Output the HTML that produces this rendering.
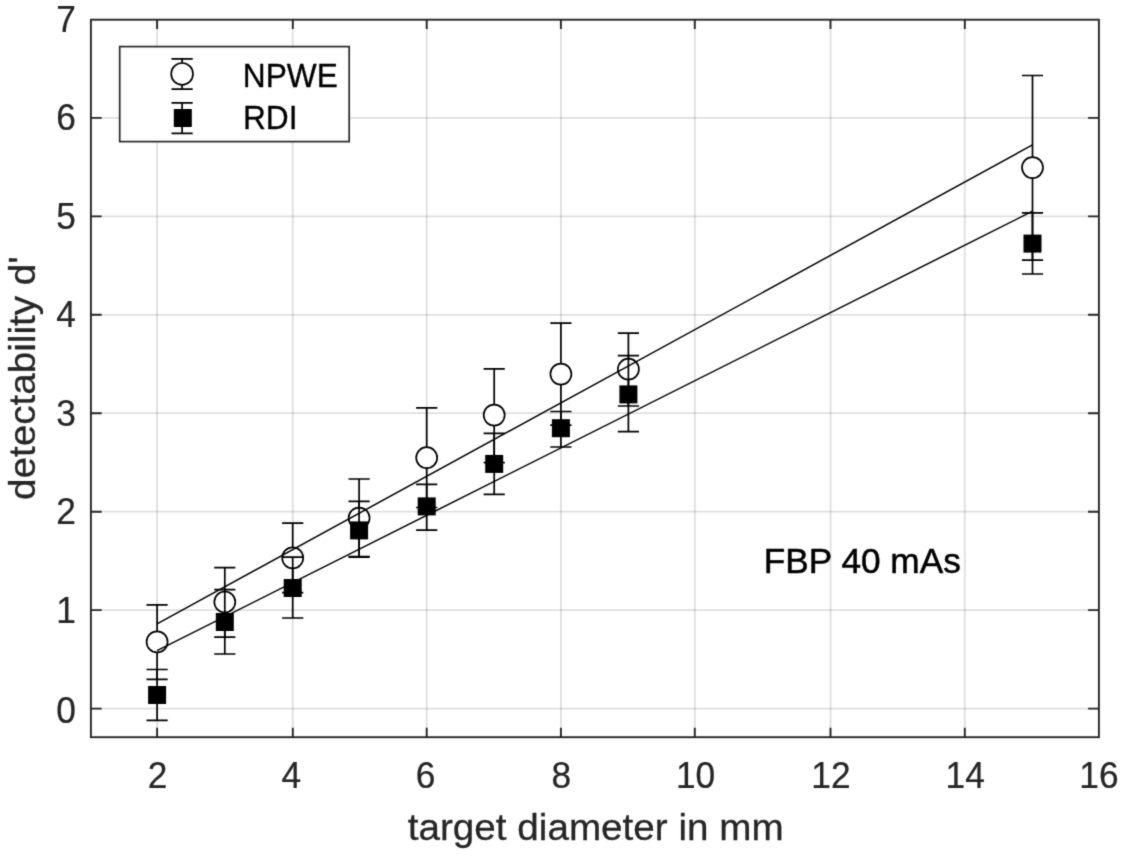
<!DOCTYPE html>
<html lang="en"><head><meta charset="utf-8"><title>Detectability vs target diameter</title>
<style>html,body{margin:0;padding:0;background:#fff}svg{display:block}</style></head>
<body>
<svg width="1125" height="857" viewBox="0 0 1125 857" style="font-family:&quot;Liberation Sans&quot;,sans-serif">
<defs><filter id="soft" x="0" y="0" width="1125" height="857" filterUnits="userSpaceOnUse" color-interpolation-filters="sRGB"><feConvolveMatrix order="3" kernelMatrix="0.0192 0.1001 0.0192 0.1001 0.5228 0.1001 0.0192 0.1001 0.0192" edgeMode="duplicate" preserveAlpha="true"/></filter></defs>
<g filter="url(#soft)">
<rect width="1125" height="857" fill="#fff"/>
<path d="M157.1 19.7V737.25M292.8 19.7V737.25M426.7 19.7V737.25M560.9 19.7V737.25M694.8 19.7V737.25M830.5 19.7V737.25M964.8 19.7V737.25" stroke="#262626" stroke-opacity="0.15" stroke-width="1.8" fill="none"/>
<path d="M90.9 708.6H1098.9M90.9 610.1H1098.9M90.9 511.7H1098.9M90.9 413.2H1098.9M90.9 314.8H1098.9M90.9 216.4H1098.9M90.9 117.9H1098.9" stroke="#262626" stroke-opacity="0.15" stroke-width="1.8" fill="none"/>
<path d="M157.1 604.8V679.4M146.5 604.8H167.7M146.5 679.4H167.7M224.8 567.7V637.2M214.2 567.7H235.4M214.2 637.2H235.4M292.7 523.2V592.6M282.1 523.2H303.3M282.1 592.6H303.3M359.1 479.0V556.5M348.5 479.0H369.7M348.5 556.5H369.7M426.7 407.9V507.5M416.1 407.9H437.3M416.1 507.5H437.3M494.2 368.8V462.7M483.6 368.8H504.8M483.6 462.7H504.8M560.9 323.1V425.1M550.3 323.1H571.5M550.3 425.1H571.5M628.4 333.2V406.0M617.8 333.2H639.0M617.8 406.0H639.0M1032.5 75.5V260.2M1021.9 75.5H1043.1M1021.9 260.2H1043.1" stroke="#000" stroke-width="1.7" fill="none"/>
<circle cx="157.1" cy="641.9" r="10.5" fill="#fff" stroke="#000" stroke-width="1.7"/>
<circle cx="224.8" cy="602.0" r="10.5" fill="#fff" stroke="#000" stroke-width="1.7"/>
<circle cx="292.7" cy="557.9" r="10.5" fill="#fff" stroke="#000" stroke-width="1.7"/>
<circle cx="359.1" cy="518.1" r="10.5" fill="#fff" stroke="#000" stroke-width="1.7"/>
<circle cx="426.7" cy="457.7" r="10.5" fill="#fff" stroke="#000" stroke-width="1.7"/>
<circle cx="494.2" cy="415.1" r="10.5" fill="#fff" stroke="#000" stroke-width="1.7"/>
<circle cx="560.9" cy="374.1" r="10.5" fill="#fff" stroke="#000" stroke-width="1.7"/>
<circle cx="628.4" cy="369.2" r="10.5" fill="#fff" stroke="#000" stroke-width="1.7"/>
<circle cx="1032.5" cy="167.6" r="10.5" fill="#fff" stroke="#000" stroke-width="1.7"/>
<path d="M157.1 669.5V720.3M146.5 669.5H167.7M146.5 720.3H167.7M224.8 589.6V654.0M214.2 589.6H235.4M214.2 654.0H235.4M292.7 557.2V618.0M282.1 557.2H303.3M282.1 618.0H303.3M359.1 501.4V557.2M348.5 501.4H369.7M348.5 557.2H369.7M426.7 484.4V530.2M416.1 484.4H437.3M416.1 530.2H437.3M494.2 433.3V494.3M483.6 433.3H504.8M483.6 494.3H504.8M560.9 411.5V447.0M550.3 411.5H571.5M550.3 447.0H571.5M628.4 355.6V431.6M617.8 355.6H639.0M617.8 431.6H639.0M1032.5 212.8V274.0M1021.9 212.8H1043.1M1021.9 274.0H1043.1" stroke="#000" stroke-width="1.7" fill="none"/>
<rect x="148.1" y="686.0" width="18.0" height="18.0" fill="#000"/>
<rect x="215.8" y="613.0" width="18.0" height="18.0" fill="#000"/>
<rect x="283.7" y="579.0" width="18.0" height="18.0" fill="#000"/>
<rect x="350.1" y="521.4" width="18.0" height="18.0" fill="#000"/>
<rect x="417.7" y="497.4" width="18.0" height="18.0" fill="#000"/>
<rect x="485.2" y="454.9" width="18.0" height="18.0" fill="#000"/>
<rect x="551.9" y="419.2" width="18.0" height="18.0" fill="#000"/>
<rect x="619.4" y="385.4" width="18.0" height="18.0" fill="#000"/>
<rect x="1023.5" y="234.6" width="18.0" height="18.0" fill="#000"/>
<path d="M157.06 623.8L1032.5 144.9M157.06 650.7L1032.5 211.2" stroke="#000" stroke-width="1.5" fill="none"/>
<path d="M157.1 737.25v-9.4M157.1 19.7v9.4M292.8 737.25v-9.4M292.8 19.7v9.4M426.7 737.25v-9.4M426.7 19.7v9.4M560.9 737.25v-9.4M560.9 19.7v9.4M694.8 737.25v-9.4M694.8 19.7v9.4M830.5 737.25v-9.4M830.5 19.7v9.4M964.8 737.25v-9.4M964.8 19.7v9.4M90.9 708.6h10.8M1098.9 708.6h-10.8M90.9 610.1h10.8M1098.9 610.1h-10.8M90.9 511.7h10.8M1098.9 511.7h-10.8M90.9 413.2h10.8M1098.9 413.2h-10.8M90.9 314.8h10.8M1098.9 314.8h-10.8M90.9 216.4h10.8M1098.9 216.4h-10.8M90.9 117.9h10.8M1098.9 117.9h-10.8" stroke="#262626" stroke-width="1.9" fill="none"/>
<rect x="90.9" y="19.7" width="1008.0" height="717.5" fill="none" stroke="#262626" stroke-width="1.9"/>
<text transform="translate(157.5 787.6) scale(0.97 1)" font-size="36.4" text-anchor="middle" fill="#262626" stroke="#262626" stroke-width="0.25">2</text>
<text transform="translate(291.2 787.6) scale(0.97 1)" font-size="36.4" text-anchor="middle" fill="#262626" stroke="#262626" stroke-width="0.25">4</text>
<text transform="translate(425.5 787.6) scale(0.97 1)" font-size="36.4" text-anchor="middle" fill="#262626" stroke="#262626" stroke-width="0.25">6</text>
<text transform="translate(561.3 787.6) scale(0.97 1)" font-size="36.4" text-anchor="middle" fill="#262626" stroke="#262626" stroke-width="0.25">8</text>
<text transform="translate(695.6 787.6) scale(0.97 1)" font-size="36.4" text-anchor="middle" fill="#262626" stroke="#262626" stroke-width="0.25">10</text>
<text transform="translate(830.9 787.6) scale(0.97 1)" font-size="36.4" text-anchor="middle" fill="#262626" stroke="#262626" stroke-width="0.25">12</text>
<text transform="translate(965.2 787.6) scale(0.97 1)" font-size="36.4" text-anchor="middle" fill="#262626" stroke="#262626" stroke-width="0.25">14</text>
<text transform="translate(1098.9 787.6) scale(0.97 1)" font-size="36.4" text-anchor="middle" fill="#262626" stroke="#262626" stroke-width="0.25">16</text>
<text transform="translate(75.8 722.9) scale(0.97 1)" font-size="36.4" text-anchor="end" fill="#262626" stroke="#262626" stroke-width="0.25">0</text>
<text transform="translate(75.8 622.9) scale(0.97 1)" font-size="36.4" text-anchor="end" fill="#262626" stroke="#262626" stroke-width="0.25">1</text>
<text transform="translate(75.8 524.3) scale(0.97 1)" font-size="36.4" text-anchor="end" fill="#262626" stroke="#262626" stroke-width="0.25">2</text>
<text transform="translate(75.8 425.9) scale(0.97 1)" font-size="36.4" text-anchor="end" fill="#262626" stroke="#262626" stroke-width="0.25">3</text>
<text transform="translate(75.8 327.1) scale(0.97 1)" font-size="36.4" text-anchor="end" fill="#262626" stroke="#262626" stroke-width="0.25">4</text>
<text transform="translate(75.8 228.7) scale(0.97 1)" font-size="36.4" text-anchor="end" fill="#262626" stroke="#262626" stroke-width="0.25">5</text>
<text transform="translate(75.8 130.2) scale(0.97 1)" font-size="36.4" text-anchor="end" fill="#262626" stroke="#262626" stroke-width="0.25">6</text>
<text transform="translate(75.8 31.8) scale(0.97 1)" font-size="36.4" text-anchor="end" fill="#262626" stroke="#262626" stroke-width="0.25">7</text>
<text transform="translate(595.7 840.4) scale(1.028 1)" font-size="37.6" text-anchor="middle" fill="#262626" stroke="#262626" stroke-width="0.3">target diameter in mm</text>
<text transform="translate(35.3 378.2) rotate(-90) scale(1.028 1)" font-size="37.6" text-anchor="middle" fill="#262626" stroke="#262626" stroke-width="0.3">detectability d'</text>
<text transform="translate(763.8 573.2) scale(0.995 1)" font-size="35.4" fill="#000" stroke="#000" stroke-width="0.5">FBP 40 mAs</text>
<rect x="119.7" y="46.6" width="229.5" height="95" fill="#fff" stroke="#262626" stroke-width="1.7"/>
<path d="M182.1 58.8V89.1M171.5 58.8H192.7M171.5 89.1H192.7" stroke="#000" stroke-width="1.7" fill="none"/>
<circle cx="182.1" cy="73.9" r="10.9" fill="#fff" stroke="#000" stroke-width="1.7"/>
<path d="M182.1 102.9V133.4M171.5 102.9H192.7M171.5 133.4H192.7" stroke="#000" stroke-width="1.7" fill="none"/>
<rect x="173.8" y="109.0" width="18.0" height="18.0" fill="#000"/>
<text transform="translate(242.8 86.6) scale(0.975 1)" font-size="32.5" fill="#000" stroke="#000" stroke-width="0.3">NPWE</text>
<text transform="translate(243.0 129.4) scale(0.975 1)" font-size="32.5" fill="#000" stroke="#000" stroke-width="0.3">RDI</text>
</g>
</svg>
</body></html>
